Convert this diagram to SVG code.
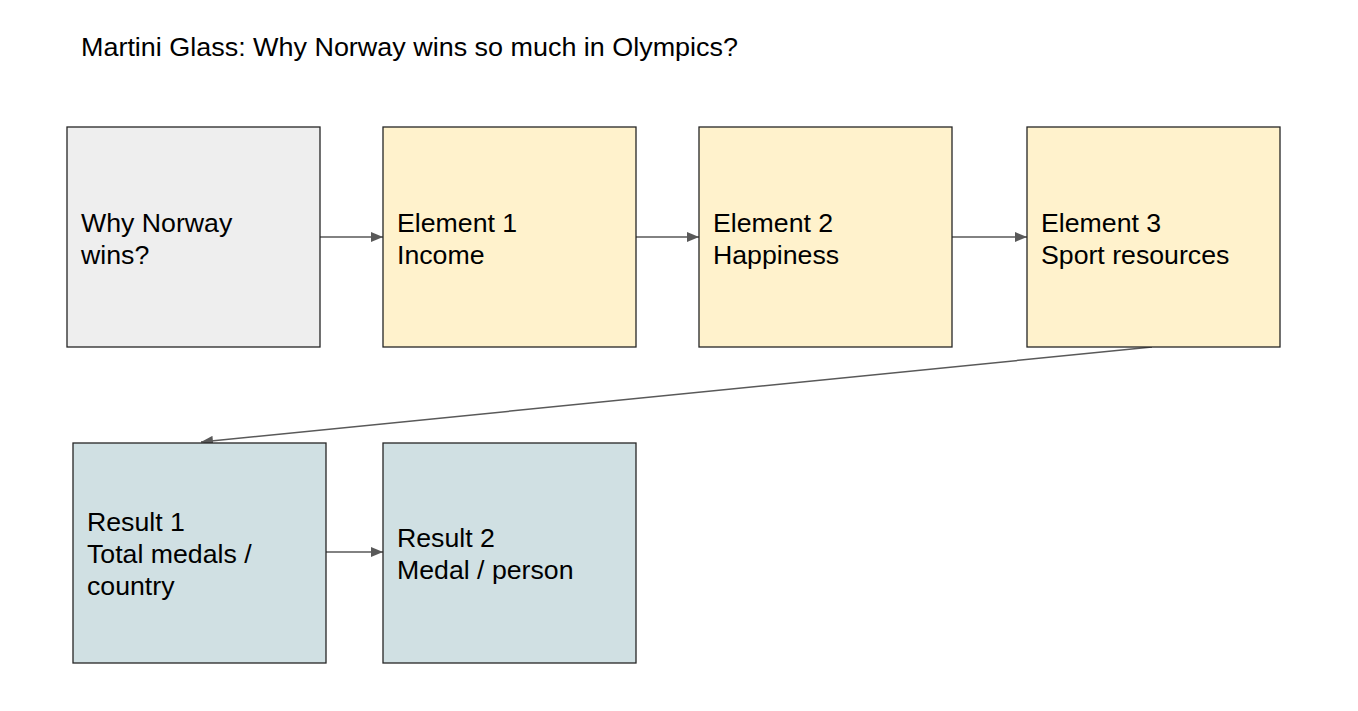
<svg xmlns="http://www.w3.org/2000/svg" width="1358" height="711" viewBox="0 0 1358 711">
<style>
text{font-family:"Liberation Sans",Arial,sans-serif;fill:#000}
.lbl{font-size:26.7px}
.title{font-size:26px}
.box{stroke:#262626;stroke-width:1.3}
.q{fill:#eeeeee}
.e{fill:#fff2cc}
.r{fill:#d0e0e3}
.c{stroke:#595959;stroke-width:1.5;fill:none}
</style>
<defs>
<marker id="ah" markerWidth="12" markerHeight="10" refX="12" refY="5" orient="auto" markerUnits="userSpaceOnUse">
<path d="M0,0 L12,5 L0,10 Z" fill="#595959"/>
</marker>
</defs>
<rect width="1358" height="711" fill="#fff"/>
<text class="title" x="81" y="56" textLength="657" lengthAdjust="spacingAndGlyphs">Martini Glass: Why Norway wins so much in Olympics?</text>
<g id="connectors">
<line class="c" x1="320" y1="237" x2="383" y2="237" marker-end="url(#ah)"/>
<line class="c" x1="636" y1="237" x2="699" y2="237" marker-end="url(#ah)"/>
<line class="c" x1="952" y1="237" x2="1027" y2="237" marker-end="url(#ah)"/>
<line class="c" x1="1152" y1="347" x2="201" y2="442" marker-end="url(#ah)"/>
<line class="c" x1="326" y1="552" x2="383" y2="552" marker-end="url(#ah)"/>
</g>
<g id="q">
<rect class="box q" x="67" y="127" width="253" height="220"/>
<text class="lbl" x="81" y="232">Why Norway</text>
<text class="lbl" x="81" y="264">wins?</text>
</g>
<g id="e1">
<rect class="box e" x="383" y="127" width="253" height="220"/>
<text class="lbl" x="397" y="232">Element 1</text>
<text class="lbl" x="397" y="264">Income</text>
</g>
<g id="e2">
<rect class="box e" x="699" y="127" width="253" height="220"/>
<text class="lbl" x="713" y="232">Element 2</text>
<text class="lbl" x="713" y="264">Happiness</text>
</g>
<g id="e3">
<rect class="box e" x="1027" y="127" width="253" height="220"/>
<text class="lbl" x="1041" y="232">Element 3</text>
<text class="lbl" x="1041" y="264">Sport resources</text>
</g>
<g id="r1">
<rect class="box r" x="73" y="443" width="253" height="220"/>
<text class="lbl" x="87" y="531">Result 1</text>
<text class="lbl" x="87" y="563">Total medals /</text>
<text class="lbl" x="87" y="595">country</text>
</g>
<g id="r2">
<rect class="box r" x="383" y="443" width="253" height="220"/>
<text class="lbl" x="397" y="547">Result 2</text>
<text class="lbl" x="397" y="579">Medal / person</text>
</g>
</svg>
